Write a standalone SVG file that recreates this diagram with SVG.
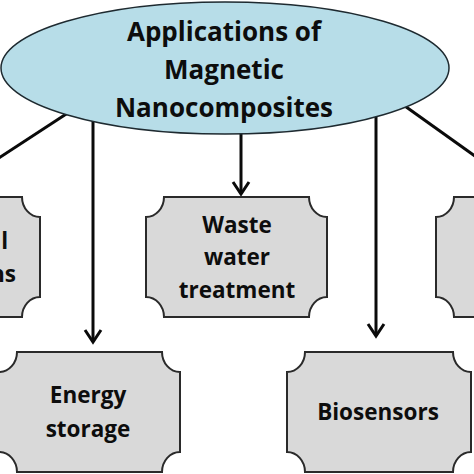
<svg xmlns="http://www.w3.org/2000/svg" width="474" height="474" viewBox="0 0 474 474">
<style>
.box{fill:#d9d9d9;stroke:#2a2a2a;stroke-width:2}
.con{fill:none;stroke:#0a0a0a;stroke-width:3}
.t{font-family:"Open Sans","Liberation Sans",sans-serif;font-weight:bold;fill:#0d0d0d;text-anchor:middle}
.title{font-size:26px}
.lbl{font-size:22.5px}
</style>
<defs>
<marker id="arr" markerUnits="userSpaceOnUse" markerWidth="24" markerHeight="24" refX="0" refY="0" orient="auto" overflow="visible">
<path d="M-12,-8 L0,0 L-12,8" fill="none" stroke="#0a0a0a" stroke-width="3"/>
</marker>
</defs>
<rect width="474" height="474" fill="#fff"/>
<g id="connectors">
<line class="con" x1="80" y1="105" x2="-12" y2="165"/>
<line class="con" x1="395" y1="99" x2="486" y2="164"/>
<line class="con" x1="93" y1="110" x2="93" y2="342" marker-end="url(#arr)"/>
<line class="con" x1="241" y1="110" x2="241" y2="194" marker-end="url(#arr)"/>
<line class="con" x1="376" y1="110" x2="376" y2="336" marker-end="url(#arr)"/>
</g>
<g id="root">
<ellipse cx="225" cy="68" rx="224" ry="66" fill="#b7dde8" stroke="#1e2a30" stroke-width="1.5"/>
<text class="t title" x="224" y="41">Applications of</text>
<text class="t title" x="224" y="79">Magnetic</text>
<text class="t title" x="224" y="117">Nanocomposites</text>
</g>
<g id="node-left">
<path class="box" d="M-123,197 H22 A18,20 0 0 0 40,217 V297 A18,20 0 0 0 22,317 H-123 A18,20 0 0 0 -141,297 V217 A18,20 0 0 0 -123,197 Z"/>
<text class="t lbl" x="8" y="249" style="text-anchor:end">l</text>
<text class="t lbl" x="16" y="282" style="text-anchor:end">ns</text>
</g>
<g id="node-waste">
<path class="box" d="M164,197 H309 A18,20 0 0 0 327,217 V297 A18,20 0 0 0 309,317 H164 A18,20 0 0 0 146,297 V217 A18,20 0 0 0 164,197 Z"/>
<text class="t lbl" x="237" y="233">Waste</text>
<text class="t lbl" x="237" y="265">water</text>
<text class="t lbl" x="237" y="298">treatment</text>
</g>
<g id="node-right">
<path class="box" d="M454,197 H599 A18,20 0 0 0 617,217 V297 A18,20 0 0 0 599,317 H454 A18,20 0 0 0 436,297 V217 A18,20 0 0 0 454,197 Z"/>
</g>
<g id="node-energy">
<path class="box" d="M17,352 H162 A18,20 0 0 0 180,372 V452 A18,20 0 0 0 162,472 H17 A18,20 0 0 0 -1,452 V372 A18,20 0 0 0 17,352 Z"/>
<text class="t lbl" x="88" y="403">Energy</text>
<text class="t lbl" x="88" y="437">storage</text>
</g>
<g id="node-biosensors">
<path class="box" d="M305,352 H453 A18,20 0 0 0 471,372 V452 A18,20 0 0 0 453,472 H305 A18,20 0 0 0 287,452 V372 A18,20 0 0 0 305,352 Z"/>
<text class="t lbl" x="378" y="420">Biosensors</text>
</g>
</svg>
